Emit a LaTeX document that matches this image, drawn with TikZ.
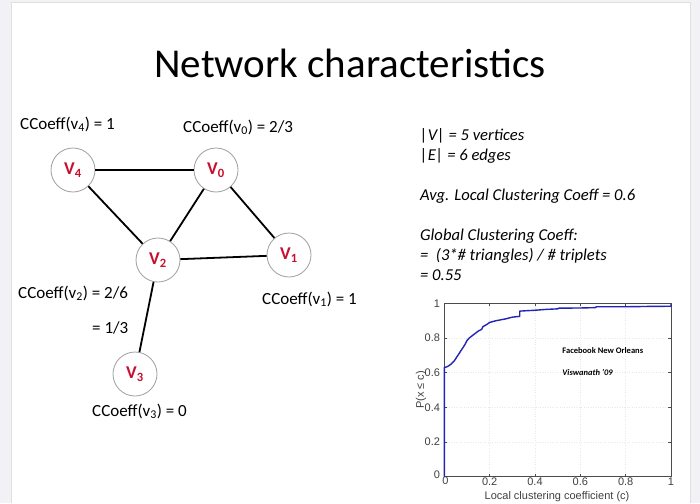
\documentclass[tikz,border=0pt]{standalone}
\usepackage{fontspec}
\setmainfont{Carlito}
\newfontfamily\plotfont{Liberation Sans}
\definecolor{vred}{RGB}{200,16,46}
\definecolor{side}{RGB}{241,241,246}
\definecolor{curveblue}{RGB}{35,35,185}
\begin{document}
\begin{tikzpicture}[x=1pt,y=-1pt,
  vert/.style={circle,draw=gray!75,line width=0.8pt,fill=white,minimum size=44pt,inner sep=0pt,font=\fontsize{18}{18}\selectfont\bfseries,text=vred},
  edge/.style={line width=1.8pt,black},
  lab/.style={anchor=base west,inner sep=0pt,font=\fontsize{17}{17}\selectfont},
  itl/.style={anchor=base west,inner sep=0pt,font=\fontsize{16.6}{16.6}\selectfont\itshape},
  tick/.style={inner sep=0pt,font=\plotfont\fontsize{11}{11}\selectfont,text=black!75}]
\useasboundingbox (0,0) rectangle (700,503);
\fill[side] (0,0) rectangle (700,503);
\fill[white] (11,2) rectangle (690,503);
\draw[gray!25,line width=0.6pt] (11,503) -- (11,2) -- (690,2) -- (690,503);

\node[anchor=base,inner sep=0pt,font=\fontsize{41}{41}\selectfont] (title) at (350,77) {Network characteristics};

% vertices
\node[vert] (v4) at (73,170) {V\textsubscript{4}};
\node[vert] (v0) at (216,170) {V\textsubscript{0}};
\node[vert] (v1) at (289,255) {V\textsubscript{1}};
\node[vert] (v2) at (158,260) {V\textsubscript{2}};
\node[vert] (v3) at (135,374) {V\textsubscript{3}};
\draw[edge] (v4) -- (v0);
\draw[edge] (v4) -- (v2);
\draw[edge] (v0) -- (v2);
\draw[edge] (v0) -- (v1);
\draw[edge] (v2) -- (v1);
\draw[edge] (v2) -- (v3);

% local coefficients
\node[lab] (c4) at (20,129) {CCoeff(v\textsubscript{4}) = 1};
\node[lab] (c0) at (183,132) {CCoeff(v\textsubscript{0}) = 2/3};
\node[lab] (c2) at (18,298) {CCoeff(v\textsubscript{2}) = 2/6};
\node[lab] (c2b) at (92,333) {= 1/3};
\node[lab] (c3) at (92,416) {CCoeff(v\textsubscript{3}) = 0};
\node[lab] (c1) at (262,304) {CCoeff(v\textsubscript{1}) = 1};

% right text
\node[itl] (t1) at (420,140) {|V| = 5 vertices};
\node[itl] (t2) at (420,160) {|E| = 6 edges};
\node[itl] (t3) at (420,200) {Avg. Local Clustering Coeff = 0.6};
\node[itl] (t4) at (420,240) {Global Clustering Coeff:};
\node[itl] (t5) at (420,260) {=\ \ (3*\# triangles) / \# triplets};
\node[itl] (t6) at (420,280) {= 0.55};

% plot
\begin{scope}[shift={(444.3,476.7)},x=226.7pt,y=173.4pt]
  \foreach \v in {0.2,0.4,0.6,0.8} {
    \draw[gray!18,line width=0.4pt,dotted] (\v,0) -- (\v,1);
    \draw[gray!18,line width=0.4pt,dotted] (0,\v) -- (1,\v);
  }
  \draw[black!70,line width=0.6pt] (0,0) rectangle (1,1);
  \foreach \v in {0.2,0.4,0.6,0.8} {
    \draw[black!70,line width=0.5pt] (\v,0) -- ++(0,0.018);
    \draw[black!70,line width=0.5pt] (\v,1) -- ++(0,-0.018);
    \draw[black!70,line width=0.5pt] (0,\v) -- ++(0.014,0);
    \draw[black!70,line width=0.5pt] (1,\v) -- ++(-0.014,0);
  }
  \foreach \v/\n in {0.2/x2,0.4/x4,0.6/x6,0.8/x8,1/x10} {
    \node[tick,anchor=north] (\n) at (\v,-0.008) {\v};
  }
  \node[tick,anchor=north] (x0) at (0.005,0.0) {0};
  \foreach \v/\n in {0.2/y2,0.4/y4,0.6/y6,0.8/y8,1/y10} {
    \node[tick,anchor=east] (\n) at (-0.018,\v) {\v};
  }
  \node[tick,anchor=east] (y0) at (-0.018,0.014) {0};
  \draw[curveblue,line width=1.4pt,line join=round]
    (0,0) -- (0,0.63) -- (0.01,0.633) -- (0.02,0.64) -- (0.03,0.65) -- (0.045,0.67)
    -- (0.06,0.70) -- (0.075,0.73) -- (0.09,0.76) -- (0.1,0.785) -- (0.11,0.80)
    -- (0.13,0.82) -- (0.15,0.84) -- (0.165,0.85) -- (0.17,0.865) -- (0.19,0.88)
    -- (0.2,0.89) -- (0.23,0.90) -- (0.27,0.91) -- (0.3,0.92) -- (0.333,0.925)
    -- (0.333,0.955) -- (0.4,0.96) -- (0.45,0.965) -- (0.5,0.968) -- (0.505,0.972)
    -- (0.6,0.973) -- (0.667,0.975) -- (0.67,0.98) -- (0.8,0.98) -- (0.9,0.982)
    -- (1,0.983) -- (1,0.995);
  \node[anchor=west,inner sep=0pt,font=\fontsize{8.5}{8.5}\selectfont\bfseries] (fb) at (0.52,0.725) {Facebook New Orleans};
  \node[anchor=west,inner sep=0pt,font=\fontsize{8.5}{8.5}\selectfont\bfseries\itshape] (vw) at (0.52,0.6) {Viswanath '09};
\end{scope}
\node[inner sep=0pt,font=\plotfont\fontsize{11}{11}\selectfont,text=black!75] (xl) at (557,497) {Local clustering coefficient (c)};
\node[rotate=90,inner sep=0pt,font=\plotfont\fontsize{11}{11}\selectfont,text=black!75] (yl) at (421,390) {P(x ≤ c)};
\end{tikzpicture}
\end{document}
